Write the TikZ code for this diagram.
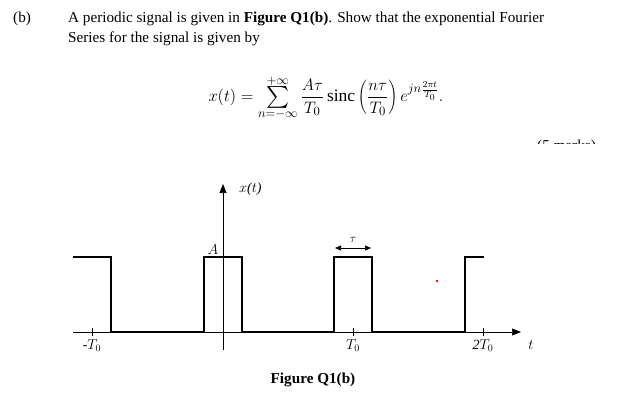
\documentclass[tikz,border=0pt]{standalone}
\usepackage{fontspec}
\setmainfont{Liberation Serif}
\usetikzlibrary{arrows.meta}
\newcommand{\bigsumx}{\mathop{\vcenter{\hbox{\scalebox{1.9}{$\sum$}}}}\limits}
\begin{document}
\begin{tikzpicture}[x=1pt,y=-1pt,
  sig/.style={line width=1.8pt,line join=miter},
  ax/.style={line width=0.6pt},
  txt/.style={font=\fontsize{15.2}{17}\selectfont,inner sep=0pt},
  small/.style={font=\fontsize{14}{15}\selectfont\itshape,inner sep=0pt}]
\useasboundingbox (0,0) rectangle (625,405);
\node[txt,anchor=base west] (b) at (13,22) {(b)};
\node[txt,anchor=base west] (l1) at (68,22) {A periodic signal is given in \textbf{Figure Q1(b)}. Show that the exponential Fourier};
\node[txt,anchor=base west] (l2) at (68,42) {Series for the signal is given by};
\node[txt,anchor=center,scale=1.15] (eq) at (326,98) {$\displaystyle x(t)=\bigsumx_{n=-\infty}^{+\infty}\frac{A\tau}{T_0}\,\mathrm{sinc}\left(\frac{n\tau}{T_0}\right)e^{jn\frac{2\pi t}{T_0}}.$};
\begin{scope}
\clip (0,0) rectangle (625,143);
\node[txt,anchor=base west] (mk) at (537,150) {(5 marks)};
\end{scope}
% axes
\coordinate (xs) at (73,332);
\coordinate (xe) at (521,332);
\draw[ax,-{Triangle[length=9pt,width=7pt]}] (xs) -- (xe);
\coordinate (ys) at (223,350);
\coordinate (ye) at (223,184);
\draw[ax,-{Triangle[length=9pt,width=7pt]}] (ys) -- (ye);
% signal
\draw[sig] (73,257) -- (111,257) -- (111,332) -- (204,332) -- (204,257) -- (242,257) -- (242,332)
  -- (334,332) -- (334,257) -- (372,257) -- (372,332) -- (465,332) -- (465,257) -- (484,257);
% ticks
\foreach \x in {92,353,483} \draw[ax] (\x,328) -- (\x,336);
\node[small,anchor=north] (m) at (92,339) {-$T_0$};
\node[small,anchor=north] (p) at (353,339) {$T_0$};
\node[small,anchor=north] (p2) at (483,339) {2$T_0$};
\node[small,anchor=north] (t) at (531,340) {$t$};
\node[small,anchor=west] (xl) at (239,189) {$x$($t$)};
\node[small,anchor=south] (A) at (213,255) {$A$};
\node[small,anchor=south,font=\fontsize{13}{14}\selectfont] (tau) at (353,243) {$\tau$};
\draw[ax,{Triangle[length=6pt,width=5pt]}-{Triangle[length=6pt,width=5pt]}] (335,248) -- (371,248);
\fill[red] (437,281) circle (1.3pt);
\node[txt,anchor=base,font=\fontsize{15.2}{17}\selectfont\bfseries] (cap) at (313,383) {Figure Q1(b)};
\end{tikzpicture}%
\end{document}
